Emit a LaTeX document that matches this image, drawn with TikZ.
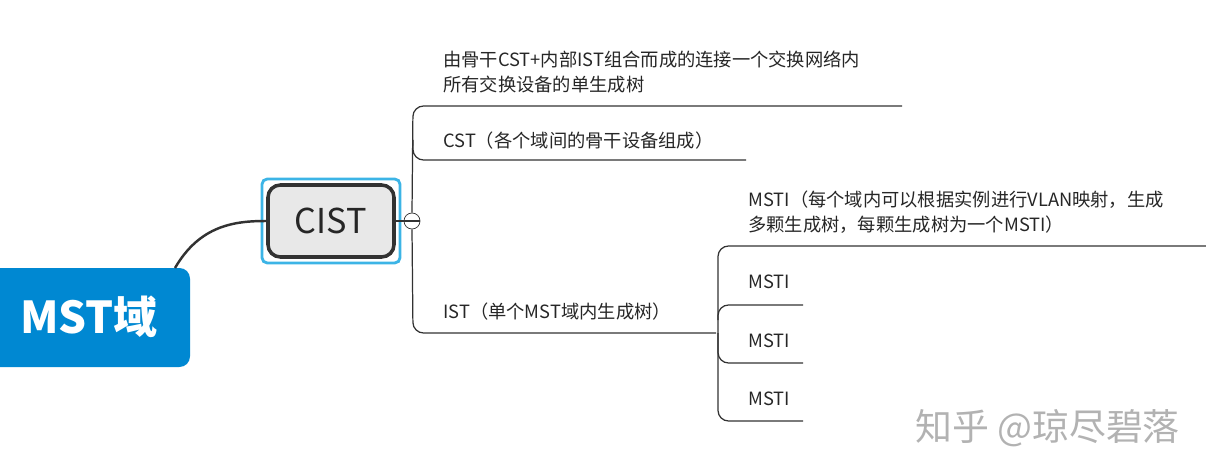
\documentclass[tikz,border=0pt]{standalone}
\usepackage{fontspec}
\setmainfont{Noto Sans CJK SC}
\usetikzlibrary{positioning}
\definecolor{mstblue}{RGB}{0,136,210}
\definecolor{selcyan}{RGB}{60,180,230}
\definecolor{linegray}{RGB}{50,50,50}
\tikzset{
  leaf/.style={anchor=west, inner sep=0pt, font=\fontsize{10.4}{14.5}\selectfont, text=black!85, align=left},
  branch/.style={draw=linegray, line width=0.7pt, rounded corners=6pt},
}
\begin{document}
\begin{tikzpicture}[x=0.02cm, y=-0.02cm]
  \useasboundingbox (0,0) rectangle (1206,476);

  % root and main topic
  \fill[mstblue, rounded corners=6pt] (-20,268) rectangle (190,367);
  \node[anchor=west, text=white, font=\fontsize{25}{28}\selectfont\bfseries] (mst) at (14,317) {MST域};
  \draw[selcyan, line width=1.6pt, rounded corners=3pt] (262,179) rectangle (400,263);
  \node[draw=linegray, line width=2pt, fill=black!9, rounded corners=7pt,
        minimum width=126*0.02cm, minimum height=72*0.02cm,
        font=\fontsize{19.5}{22}\selectfont, text=black!85] (cist) at (331,221) {CIST};
  \draw[linegray, line width=1.4pt] (175,268) .. controls (200,225) and (235,221) .. (cist.west);

  % fold marker
  \draw[linegray, line width=0.7pt] (cist.east) -- (404,221);
  \node[draw=linegray, fill=white, circle, inner sep=0pt, minimum size=16*0.02cm] (fold) at (412,221) {};
  \draw[linegray, line width=0.7pt] (fold.west) -- (fold.east);

  % first level
  \node[leaf] (whole) at (443,72) {由骨干CST+内部IST组合而成的连接一个交换网络内\\所有交换设备的单生成树};
  \node[leaf] (cst) at (443,141) {CST（各个域间的骨干设备组成）};
  \node[leaf] (ist) at (443,312) {IST（单个MST域内生成树）};
  \coordinate (wholeend) at (902,106);
  \coordinate (cstend) at (746,160);
  \coordinate (istend) at (716,333);
  \draw[branch] (fold.north) -- (413,106) -- (wholeend);
  \draw[branch] (413,140) -- (413,160) -- (cstend);
  \draw[branch] (fold.south) -- (413,333) -- (istend);

  % second level
  \node[leaf] (msti) at (748,212) {MSTI（每个域内可以根据实例进行VLAN映射，生成\\多颗生成树，每颗生成树为一个MSTI）};
  \node[leaf] (mstia) at (748,282) {MSTI};
  \node[leaf] (mstib) at (748,341) {MSTI};
  \node[leaf] (mstic) at (748,399) {MSTI};
  \coordinate (mstiend) at (1206,246);
  \draw[branch] (718,333) -- (718,246) -- (mstiend);
  \draw[branch] (718,320) -- (718,305) -- (803,305);
  \draw[branch] (718,333) -- (718,363) -- (803,363);
  \draw[branch] (718,333) -- (718,421) -- (803,421);

  % watermark
  \node[anchor=west, inner sep=0pt, text=black!30, font=\fontsize{21}{24}\selectfont] (mark) at (915,428) {知乎 @琼尽碧落};
\end{tikzpicture}
\end{document}
